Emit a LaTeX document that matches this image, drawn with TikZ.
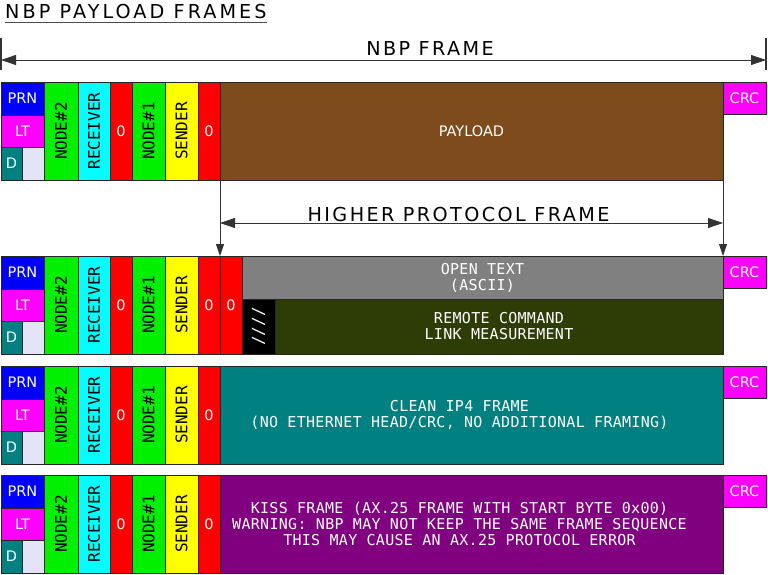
\documentclass[tikz,border=0pt]{standalone}
\usepackage{fontspec}
\setmainfont{DejaVu Sans}
\newfontfamily\monofont{DejaVu Sans Mono}
\newfontfamily\dimfont[LetterSpace=12.5]{DejaVu Sans}
\newfontfamily\titlefont[LetterSpace=16]{DejaVu Sans}
\usetikzlibrary{positioning, arrows.meta}

\definecolor{prnblue}{RGB}{0,0,255}
\definecolor{ltmagenta}{RGB}{255,0,255}
\definecolor{dteal}{RGB}{0,128,128}
\definecolor{lavender}{RGB}{228,228,248}
\definecolor{nodegreen}{RGB}{0,240,0}
\definecolor{recvcyan}{RGB}{0,255,255}
\definecolor{zerored}{RGB}{255,0,0}
\definecolor{sendyellow}{RGB}{255,255,0}
\definecolor{payloadbrown}{RGB}{126,75,28}
\definecolor{textgray}{RGB}{128,128,128}
\definecolor{remoteolive}{RGB}{46,60,5}
\definecolor{kisspurple}{RGB}{128,0,128}

\begin{document}
\begin{tikzpicture}[x=1pt, y=-1pt,
    cell/.style={draw=black!85, line width=0.8pt, anchor=north west, inner sep=0pt, outer sep=0pt, font=\fontsize{14.5}{16}\selectfont},
    vcell/.style={cell, font=\monofont\fontsize{16}{16}\selectfont},
    bigbox/.style={cell, text=white, align=center, font=\monofont\addfontfeature{LetterSpace=2}\fontsize{15}{16}\selectfont},
    boxtext/.style={text=white, align=center, inner sep=0pt, font=\monofont\addfontfeature{LetterSpace=2}\fontsize{15}{16}\selectfont},
    dim/.style={draw=black!80, line width=0.8pt},
    dimlabel/.style={anchor=base, inner sep=0pt, font=\dimfont\fontsize{19.2}{22}\selectfont}]
        \useasboundingbox (0,0) rectangle (768,575);

        % Title
        \node (title) [anchor=base west, inner sep=0pt, font=\titlefont\fontsize{19.2}{22}\selectfont] at (5,19) {NBP PAYLOAD FRAMES};
        \draw [line width=1pt, black!70] ([yshift=-3.5pt]title.base west) -- ([yshift=-3.5pt]title.base east);

        % Header fields, the same in every row
        \foreach \r/\y in {1/82, 2/256, 3/366, 4/475} {
            \node (prn\r) [cell, fill=prnblue, text=white, minimum width=43pt, minimum height=33pt] at (1,\y) {PRN};
            \node (lt\r) [cell, fill=ltmagenta, text=white, minimum width=43pt, minimum height=32pt] at (prn\r.south west) {LT};
            \node (d\r) [cell, fill=dteal, text=white, minimum width=21pt, minimum height=33pt] at (lt\r.south west) {D};
            \node (dd\r) [cell, fill=lavender, minimum width=22pt, minimum height=33pt] at (d\r.north east) {};
            \node (nodeb\r) [vcell, fill=nodegreen, minimum width=34pt, minimum height=98pt] at (prn\r.north east) {\rotatebox{90}{NODE\#2}};
            \node (recv\r) [vcell, fill=recvcyan, minimum width=32pt, minimum height=98pt] at (nodeb\r.north east) {\rotatebox{90}{RECEIVER}};
            \node (za\r) [cell, fill=zerored, text=white, minimum width=22pt, minimum height=98pt] at (recv\r.north east) {0};
            \node (nodea\r) [vcell, fill=nodegreen, minimum width=33pt, minimum height=98pt] at (za\r.north east) {\rotatebox{90}{NODE\#1}};
            \node (send\r) [vcell, fill=sendyellow, minimum width=33pt, minimum height=98pt] at (nodea\r.north east) {\rotatebox{90}{SENDER}};
            \node (zb\r) [cell, fill=zerored, text=white, minimum width=22pt, minimum height=98pt] at (send\r.north east) {0};
        }

        % Row 1
        \node (payload) [cell, fill=payloadbrown, text=white, minimum width=503pt, minimum height=98pt] at (zb1.north east) {PAYLOAD};
        \node (crc1) [cell, fill=ltmagenta, text=white, minimum width=43pt, minimum height=32pt] at (payload.north east) {CRC};

        % Row 2
        \node (zc) [cell, fill=zerored, text=white, minimum width=22pt, minimum height=98pt] at (zb2.north east) {0};
        \node (opentext) [bigbox, fill=textgray, minimum width=481pt, minimum height=43pt] at (zc.north east) {OPEN TEXT\\(ASCII)};
        \node (hatch) [vcell, fill=black, text=white, minimum width=33pt, minimum height=55pt] at (opentext.south west) {\rotatebox{90}{////}};
        \node (remote) [bigbox, fill=remoteolive, minimum width=448pt, minimum height=55pt] at (hatch.north east) {REMOTE COMMAND\\LINK MEASUREMENT};
        \node (crc2) [cell, fill=ltmagenta, text=white, minimum width=43pt, minimum height=32pt] at (opentext.north east) {CRC};

        % Row 3
        \node (ipframe) [cell, fill=dteal, minimum width=503pt, minimum height=98pt] at (zb3.north east) {};
        \node (iptext) [boxtext] at ([xshift=-12pt]ipframe.center) {CLEAN IP4 FRAME\\(NO ETHERNET HEAD/CRC, NO ADDITIONAL FRAMING)};
        \node (crc3) [cell, fill=ltmagenta, text=white, minimum width=43pt, minimum height=32pt] at (ipframe.north east) {CRC};

        % Row 4
        \node (kiss) [cell, fill=kisspurple, minimum width=503pt, minimum height=98pt] at (zb4.north east) {};
        \node (kisstext) [boxtext] at ([xshift=-12pt]kiss.center) {KISS FRAME (AX.25 FRAME WITH START BYTE 0x00)\\WARNING: NBP MAY NOT KEEP THE SAME FRAME SEQUENCE\\THIS MAY CAUSE AN AX.25 PROTOCOL ERROR};
        \node (crc4) [cell, fill=ltmagenta, text=white, minimum width=43pt, minimum height=32pt] at (kiss.north east) {CRC};

        % NBP frame dimension
        \coordinate (ftl) at (1,38);
        \coordinate (fbl) at (1,70);
        \coordinate (ftr) at (766,38);
        \coordinate (fbr) at (766,70);
        \coordinate (fl) at (1,60);
        \coordinate (fr) at (766,60);
        \draw [dim, line width=1.4pt] (ftl) -- (fbl);
        \draw [dim, line width=1.4pt] (ftr) -- (fbr);
        \draw [dim, {Triangle[length=15pt,width=10pt]}-{Triangle[length=15pt,width=10pt]}] (fl) -- (fr);
        \node (nbpframe) [dimlabel] at (430,56) {NBP FRAME};

        % Higher protocol frame dimension
        \coordinate (hgt) at (0,223);
        \draw [dim, -{Triangle[length=12pt,width=8pt]}] (payload.south west) -- (zc.north west);
        \draw [dim, -{Triangle[length=12pt,width=8pt]}] (payload.south east) -- (opentext.north east);
        \draw [dim, {Triangle[length=15pt,width=10pt]}-{Triangle[length=15pt,width=10pt]}] (payload.south west |- hgt) -- (payload.south east |- hgt);
        \node (higher) [dimlabel] at (458.5,221) {HIGHER PROTOCOL FRAME};

    \end{tikzpicture}
\end{document}
